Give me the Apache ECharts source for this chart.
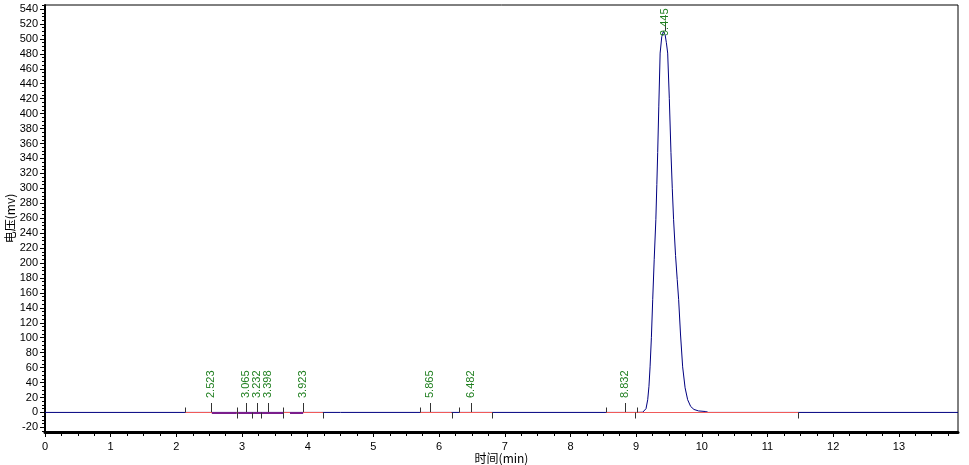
<!DOCTYPE html>
<html>
<head>
<meta charset="utf-8">
<script src="https://cdn.jsdelivr.net/npm/echarts@6/dist/echarts.min.js"></script>
<style>
html,body{margin:0;padding:0;background:#fff;}
#chart{width:969px;height:465px;}
</style>
</head>
<body>
<div id="chart"></div>
<script>
// ---- data ----
var sigT = [0, 9.0, 9.1, 9.126, 9.15, 9.176, 9.195, 9.212, 9.232, 9.252, 9.275, 9.30, 9.315, 9.328, 9.345, 9.365, 9.39, 9.415, 9.44, 9.46, 9.48, 9.505, 9.53, 9.55, 9.57, 9.60, 9.625, 9.647, 9.675, 9.708, 9.745, 9.784, 9.83, 9.88, 9.95, 10.06, 10.1, 13.9];
var sigV = [0, 0, 0.3, 1, 5, 17, 35, 61, 100, 151, 205, 258, 305, 348, 410, 481, 503, 510, 506, 495, 481, 420, 348, 300, 258, 210, 178, 151, 105, 61, 33, 17, 8, 4, 2, 1.2, 0, 0];

var peakRT = [2.523, 3.065, 3.232, 3.398, 3.923, 5.865, 6.482, 8.832, 9.445];
var peakHeight = [0, 0, 0, 0, 0, 0, 0, 0, 510];
var peakLabels = ['2.523', '3.065', '3.232', '3.398', '3.923', '5.865', '6.482', '8.832', '9.445'];

var baseSegStart = [2.135, 5.71, 6.31, 8.54];
var baseSegEnd   = [4.23, 6.19, 6.81, 11.47];
var overlapStart = [2.54, 2.94, 3.73];
var overlapEnd   = [2.92, 3.63, 3.93];

var startMarks = [2.135, 2.93, 3.63, 5.71, 6.31, 8.54, 9.02];
var endMarks   = [2.93, 3.15, 3.29, 3.63, 4.23, 6.19, 6.81, 8.99, 11.47];

var xTickLabels = [0, 1, 2, 3, 4, 5, 6, 7, 8, 9, 10, 11, 12, 13];
var yTickLabels = [-20, 0, 20, 40, 60, 80, 100, 120, 140, 160, 180, 200, 220, 240, 260, 280, 300, 320, 340, 360, 380, 400, 420, 440, 460, 480, 500, 520, 540];

var X_MIN = 0, X_MAX = 13.9, Y_MIN = -26.2, Y_MAX = 545.4;

// minor tick positions (axis decoration)
var xMinor = [];
for (var i = 0; i < 13.9 * 4; i++) { var v = i / 4; if (i % 4 !== 0 && v < X_MAX) xMinor.push(v); }
var yMinor = [];
for (var j = -25; j <= 545; j += 5) { if (j % 20 !== 0) yMinor.push(j); }

var signalData = sigT.map(function (t, k) { return [t, sigV[k]]; });
var baseData = baseSegStart.map(function (s, k) { return [s, baseSegEnd[k]]; });
var overlapData = overlapStart.map(function (s, k) { return [s, overlapEnd[k]]; });
var peakData = peakRT.map(function (t, k) { return [t, peakHeight[k], peakLabels[k]]; });

var font = 'Liberation Sans, Arial, sans-serif';
var chart = echarts.init(document.getElementById('chart'), null, { renderer: 'canvas' });

function zeroY(api) { return Math.round(api.coord([0, 0])[1]) + 0.5; }

chart.setOption({
  animation: false,
  backgroundColor: '#ffffff',
  grid: { left: 45, right: 11, top: 5, bottom: 33, containLabel: false, outerBoundsMode: 'none', show: true, borderColor: '#000', borderWidth: 1, backgroundColor: 'transparent' },
  xAxis: [{
    type: 'value', min: X_MIN, max: X_MAX,
    axisLine: { show: true, onZero: false, lineStyle: { color: '#000', width: 3 } },
    axisTick: { show: true, customValues: xTickLabels, length: 5, lineStyle: { color: '#000' } },
    axisLabel: { customValues: xTickLabels, color: '#000', fontSize: 11, fontFamily: font, margin: 9 },
    splitLine: { show: false },
    name: '时间(min)', nameLocation: 'middle', nameGap: 20, nameMoveOverlap: false,
    nameTextStyle: { color: '#000', fontSize: 12, fontFamily: 'Noto Sans CJK SC, DejaVu Sans Mono' }
  }, {
    type: 'value', min: X_MIN, max: X_MAX, position: 'bottom',
    axisLine: { show: false, onZero: false },
    axisTick: { show: true, customValues: xMinor, length: 4, lineStyle: { color: '#000' } },
    axisLabel: { show: false },
    splitLine: { show: false }
  }],
  yAxis: [{
    type: 'value', min: Y_MIN, max: Y_MAX,
    axisLine: { show: true, onZero: false, lineStyle: { color: '#000', width: 2 } },
    axisTick: { show: true, customValues: yTickLabels, length: 5, lineStyle: { color: '#000' } },
    axisLabel: { customValues: yTickLabels, color: '#000', fontSize: 11, fontFamily: font, margin: 7 },
    splitLine: { show: false },
    name: '电压(mv)', nameLocation: 'middle', nameGap: 29, nameRotate: 90, nameMoveOverlap: false,
    nameTextStyle: { color: '#000', fontSize: 12, fontFamily: 'Noto Sans CJK SC, DejaVu Sans Mono' }
  }, {
    type: 'value', min: Y_MIN, max: Y_MAX, position: 'left',
    axisLine: { show: false, onZero: false },
    axisTick: { show: true, customValues: yMinor, length: 3, lineStyle: { color: '#000' } },
    axisLabel: { show: false },
    splitLine: { show: false }
  }],
  series: [{
    type: 'line', name: 'signal', data: signalData, xAxisIndex: 0, yAxisIndex: 0,
    showSymbol: false, symbol: 'none', lineStyle: { color: '#000080', width: 1 }, z: 2
  }, {
    type: 'custom', name: 'baseline', data: baseData, encode: { x: [0, 1] }, z: 3,
    renderItem: function (params, api) {
      var y = zeroY(api);
      var a = api.coord([api.value(0), 0]), b = api.coord([api.value(1), 0]);
      return { type: 'line', shape: { x1: a[0], y1: y, x2: b[0], y2: y }, style: { stroke: '#f05a5a', lineWidth: 1 } };
    }
  }, {
    type: 'custom', name: 'overlap', data: overlapData, encode: { x: [0, 1] }, z: 4,
    renderItem: function (params, api) {
      var y = zeroY(api) + 0.5;
      var a = api.coord([api.value(0), 0]), b = api.coord([api.value(1), 0]);
      return { type: 'line', shape: { x1: a[0], y1: y, x2: b[0], y2: y }, style: { stroke: '#7a1e8c', lineWidth: 2 } };
    }
  }, {
    type: 'custom', name: 'startMarks', data: startMarks.map(function (v) { return [v]; }), encode: { x: 0 }, z: 5,
    renderItem: function (params, api) {
      var y = zeroY(api);
      var x = Math.round(api.coord([api.value(0), 0])[0]) + 0.5;
      return { type: 'line', shape: { x1: x, y1: y, x2: x, y2: y - 5 }, style: { stroke: '#333', lineWidth: 1 } };
    }
  }, {
    type: 'custom', name: 'endMarks', data: endMarks.map(function (v) { return [v]; }), encode: { x: 0 }, z: 5,
    renderItem: function (params, api) {
      var y = zeroY(api);
      var x = Math.round(api.coord([api.value(0), 0])[0]) + 0.5;
      return { type: 'line', shape: { x1: x, y1: y, x2: x, y2: y + 6 }, style: { stroke: '#333', lineWidth: 1 } };
    }
  }, {
    type: 'custom', name: 'peaks', data: peakData, encode: { x: 0, y: 1 }, z: 6,
    renderItem: function (params, api) {
      var p = api.coord([api.value(0), api.value(1)]);
      var x = Math.round(p[0]) + 0.5;
      var y = Math.round(p[1]);
      var label = peakLabels[params.dataIndex];
      var textLen = 27;
      var ty = y - 14;
      var minTop = params.coordSys.y + 4;
      if (ty - textLen < minTop) ty = minTop + textLen;
      return {
        type: 'group',
        children: [{
          type: 'line', shape: { x1: x, y1: y, x2: x, y2: y - 9 }, style: { stroke: '#333', lineWidth: 1 }
        }, {
          type: 'text', x: p[0], y: ty, rotation: Math.PI / 2,
          style: { text: label, x: 0, y: 0, align: 'left', verticalAlign: 'middle', fill: '#1f7f1f', font: '11px ' + font }
        }]
      };
    }
  }]
});
</script>
</body>
</html>
